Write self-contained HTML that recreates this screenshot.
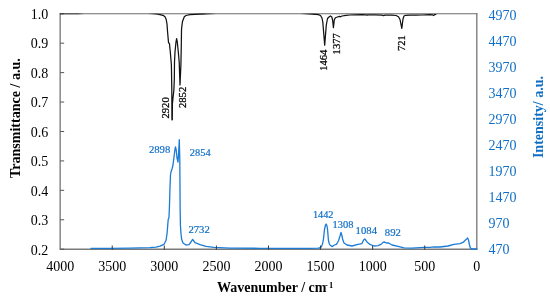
<!DOCTYPE html>
<html><head><meta charset="utf-8"><title>Spectra</title>
<style>
html,body{margin:0;padding:0;background:#fff}
body{width:550px;height:301px;overflow:hidden}
svg text{font-family:"Liberation Serif","DejaVu Serif",serif}
</style></head><body>
<svg width="550" height="301" viewBox="0 0 550 301" style="display:block">
<rect width="550" height="301" fill="#fff"/>
<path d="M60.15,13.15 V249.2 H476.8 V13.15" fill="none" stroke="#7a7a7a" stroke-width="1.35"/>
<line x1="59.55" x2="477.40" y1="13.65" y2="13.65" stroke="#6c6c6c" stroke-width="1.05"/>
<line x1="60.15" x2="64.15" y1="13.75" y2="13.75" stroke="#555" stroke-width="1"/>
<text x="48.3" y="19.05" text-anchor="end" font-size="14.0" fill="#000">1.0</text>
<line x1="60.15" x2="64.15" y1="43.18" y2="43.18" stroke="#555" stroke-width="1"/>
<text x="48.3" y="48.48" text-anchor="end" font-size="14.0" fill="#000">0.9</text>
<line x1="60.15" x2="64.15" y1="72.61" y2="72.61" stroke="#555" stroke-width="1"/>
<text x="48.3" y="77.91" text-anchor="end" font-size="14.0" fill="#000">0.8</text>
<line x1="60.15" x2="64.15" y1="102.04" y2="102.04" stroke="#555" stroke-width="1"/>
<text x="48.3" y="107.34" text-anchor="end" font-size="14.0" fill="#000">0.7</text>
<line x1="60.15" x2="64.15" y1="131.47" y2="131.47" stroke="#555" stroke-width="1"/>
<text x="48.3" y="136.78" text-anchor="end" font-size="14.0" fill="#000">0.6</text>
<line x1="60.15" x2="64.15" y1="160.91" y2="160.91" stroke="#555" stroke-width="1"/>
<text x="48.3" y="166.21" text-anchor="end" font-size="14.0" fill="#000">0.5</text>
<line x1="60.15" x2="64.15" y1="190.34" y2="190.34" stroke="#555" stroke-width="1"/>
<text x="48.3" y="195.64" text-anchor="end" font-size="14.0" fill="#000">0.4</text>
<line x1="60.15" x2="64.15" y1="219.77" y2="219.77" stroke="#555" stroke-width="1"/>
<text x="48.3" y="225.07" text-anchor="end" font-size="14.0" fill="#000">0.3</text>
<line x1="60.15" x2="64.15" y1="249.20" y2="249.20" stroke="#555" stroke-width="1"/>
<text x="48.3" y="254.50" text-anchor="end" font-size="14.0" fill="#000">0.2</text>
<text x="60.15" y="271" text-anchor="middle" font-size="14.0" fill="#000">4000</text>
<text x="112.23" y="271" text-anchor="middle" font-size="14.0" fill="#000">3500</text>
<text x="164.31" y="271" text-anchor="middle" font-size="14.0" fill="#000">3000</text>
<text x="216.39" y="271" text-anchor="middle" font-size="14.0" fill="#000">2500</text>
<text x="268.48" y="271" text-anchor="middle" font-size="14.0" fill="#000">2000</text>
<text x="320.56" y="271" text-anchor="middle" font-size="14.0" fill="#000">1500</text>
<text x="372.64" y="271" text-anchor="middle" font-size="14.0" fill="#000">1000</text>
<text x="424.72" y="271" text-anchor="middle" font-size="14.0" fill="#000">500</text>
<text x="476.80" y="271" text-anchor="middle" font-size="14.0" fill="#000">0</text>
<text x="488.6" y="19.95" font-size="14.0" fill="#0f6fc6">4970</text>
<text x="488.6" y="46.00" font-size="14.0" fill="#0f6fc6">4470</text>
<text x="488.6" y="72.05" font-size="14.0" fill="#0f6fc6">3970</text>
<text x="488.6" y="98.10" font-size="14.0" fill="#0f6fc6">3470</text>
<text x="488.6" y="124.15" font-size="14.0" fill="#0f6fc6">2970</text>
<text x="488.6" y="150.20" font-size="14.0" fill="#0f6fc6">2470</text>
<text x="488.6" y="176.25" font-size="14.0" fill="#0f6fc6">1970</text>
<text x="488.6" y="202.30" font-size="14.0" fill="#0f6fc6">1470</text>
<text x="488.6" y="228.35" font-size="14.0" fill="#0f6fc6">970</text>
<text x="488.6" y="254.40" font-size="14.0" fill="#0f6fc6">470</text>
<polyline points="91,248.4 110,248.3 130,248.2 150,247.7 156,247.2 160,246.2 164,244.3 166,240.5 167,234 167.6,227 168.2,219.5 168.9,217.8 169.1,215 169.5,205 169.9,190 170.5,175 171,172 172,169 173,165 174,157 175,149 175.5,147 176.2,150 177,158 178,162 178.5,155 179.3,139.6 179.8,160 180.1,205 180.4,225 181,234 181.6,239 183,243 186,245 189,244.6 191,242 192.6,239.4 193.8,241 195,242.6 200,244.6 206,246.4 214,247.3 230,248.1 260,248.3 290,248.3 310,248.3 318,248.2 319.5,248 320.8,247.4 321.8,245.8 322.6,243.6 323.6,238.3 324.4,230 325.5,225 326.2,224 327,226 327.6,230 328.4,240 329.2,243.5 330,245 332,246.6 334.4,245 336.4,244.4 338.4,241 340,236 341,232.4 341.8,235 342.6,239 344,243 347,245 352,246 358,244.4 362,243.6 363.6,240 364.8,239 366,240.5 367,242 370,244.4 374,246 378,245.6 381,244.4 383,242.4 384.5,242 385.5,242.6 387,243 388.5,243 392,245 398,246.4 404,247.9 412,248.1 424,247.3 430,247.3 434,246.8 440,247 448,246 454,244.4 460,243.6 463,242.4 466,239.6 467.6,238 468.5,240 469.5,245 470.4,248 471.6,249 477,249" fill="none" stroke="#1b7cd6" stroke-width="1.3" stroke-linejoin="round" stroke-linecap="round"/>
<defs><linearGradient id="bg" gradientUnits="userSpaceOnUse" x1="60" y1="0" x2="437" y2="0"><stop offset="0.0000" stop-color="#111" stop-opacity="0.5"/><stop offset="0.0477" stop-color="#111" stop-opacity="0.5"/><stop offset="0.0637" stop-color="#111" stop-opacity="0"/><stop offset="0.2334" stop-color="#111" stop-opacity="0"/><stop offset="0.2653" stop-color="#111" stop-opacity="1"/><stop offset="0.3820" stop-color="#111" stop-opacity="1"/><stop offset="0.4138" stop-color="#111" stop-opacity="0"/><stop offset="0.6366" stop-color="#111" stop-opacity="0"/><stop offset="0.6737" stop-color="#111" stop-opacity="1"/><stop offset="1.0000" stop-color="#111" stop-opacity="1"/></linearGradient></defs>
<polyline points="60,13.9 150,13.9 156,14.2 160,14.6 163,15.3 165,16.7 166.2,19.5 167,24 167.5,31 168.2,39 168.5,42.5 169.5,43.8 169.8,47 170.3,52 170.9,59 171.4,65 171.8,90 171.95,119.8 172.3,119.8 172.4,104 173.0,98 173.8,91 174.3,80 174.5,62 175,52 176,42 176.6,38.7 177.3,42 178.3,52 179.2,62 180,85 180.9,65 181.3,45 181.5,30 181.8,26.7 182.5,21.5 184.3,16.7 186,15.5 190,14.7 200,14.2 207,14 215,13.9 300,13.9 310,14.1 316,14.3 318.4,14.6 320.5,15.5 322,18 322.8,22 324.7,45.1 326.3,25 327.5,18.5 329.3,16.7 330.5,16 331.8,17 332.6,20 333.4,27.6 334.3,20 335.2,18 336,17.5 337.5,17 339.3,16.4 340.5,16.8 342,16 346,15.3 350,15.0 355,14.8 362,14.7 366,14.8 367,15.2 368,14.8 375,14.9 382,15.1 383.5,15.7 385,15.2 392,15.1 396,15.5 398.5,16.7 400,19.5 401.8,28.4 403,19 404,16 405.5,15.3 410,15.1 416,15.2 422,15 430,14.7 432.5,14.8 433.5,15.5 434.5,14.7 436.3,14.5" fill="none" stroke="url(#bg)" stroke-width="1.25" stroke-linejoin="round" stroke-linecap="butt"/>
<line x1="112.23" x2="112.23" y1="249.7" y2="245.5" stroke="#3a3a3a" stroke-width="1"/>
<line x1="164.31" x2="164.31" y1="249.7" y2="245.5" stroke="#3a3a3a" stroke-width="1"/>
<line x1="216.39" x2="216.39" y1="249.7" y2="245.5" stroke="#3a3a3a" stroke-width="1"/>
<line x1="268.48" x2="268.48" y1="249.7" y2="245.5" stroke="#3a3a3a" stroke-width="1"/>
<line x1="320.56" x2="320.56" y1="249.7" y2="245.5" stroke="#3a3a3a" stroke-width="1"/>
<line x1="372.64" x2="372.64" y1="249.7" y2="245.5" stroke="#3a3a3a" stroke-width="1"/>
<line x1="424.72" x2="424.72" y1="249.7" y2="245.5" stroke="#3a3a3a" stroke-width="1"/>
<text transform="translate(169.2,118.5) rotate(-90) scale(0.94,1)" font-size="11.3" fill="#000" font-weight="normal" stroke="#000" stroke-width="0.25">2920</text>
<text transform="translate(185.8,108) rotate(-90) scale(0.94,1)" font-size="11.3" fill="#000" font-weight="normal" stroke="#000" stroke-width="0.25">2852</text>
<text transform="translate(327.4,70.8) rotate(-90) scale(0.94,1)" font-size="11.3" fill="#000" font-weight="normal" stroke="#000" stroke-width="0.25">1464</text>
<text transform="translate(339.9,54.4) rotate(-90) scale(0.94,1)" font-size="11.3" fill="#000" font-weight="normal" stroke="#000" stroke-width="0.25">1377</text>
<text transform="translate(405.3,51) rotate(-90) scale(0.94,1)" font-size="11.3" fill="#000" font-weight="normal" stroke="#000" stroke-width="0.25">721</text>
<text x="148.9" y="153.2" font-size="10.7" fill="#0f6fc6" stroke="#0f6fc6" stroke-width="0.2">2898</text>
<text x="189.8" y="156" font-size="10.4" fill="#0f6fc6" stroke="#0f6fc6" stroke-width="0.2">2854</text>
<text x="188.4" y="233.2" font-size="10.7" fill="#0f6fc6" stroke="#0f6fc6" stroke-width="0.2">2732</text>
<text x="312.9" y="218.2" font-size="10.3" fill="#0f6fc6" stroke="#0f6fc6" stroke-width="0.2">1442</text>
<text x="332.5" y="228.2" font-size="10.45" fill="#0f6fc6" stroke="#0f6fc6" stroke-width="0.2">1308</text>
<text x="355.6" y="233.6" font-size="10.7" fill="#0f6fc6" stroke="#0f6fc6" stroke-width="0.2">1084</text>
<text x="384.8" y="235.5" font-size="10.7" fill="#0f6fc6" stroke="#0f6fc6" stroke-width="0.2">892</text>
<text transform="translate(19.8,178.1) rotate(-90) scale(1,1)" font-size="14.05" fill="#000" font-weight="bold" stroke="#000" stroke-width="0">Transmittance / a.u.</text>
<text transform="translate(542.5,158.1) rotate(-90) scale(1,1)" font-size="14" fill="#0f6fc6" font-weight="bold" stroke="#0f6fc6" stroke-width="0">Intensity/ a.u.</text>
<text x="217" y="292" font-size="14" font-weight="bold" fill="#000">Wavenumber / cm<tspan font-size="8.5" dy="-4" dx="-1.5">-</tspan><tspan font-size="8.5" dx="1.2">1</tspan></text>
</svg>
</body></html>
